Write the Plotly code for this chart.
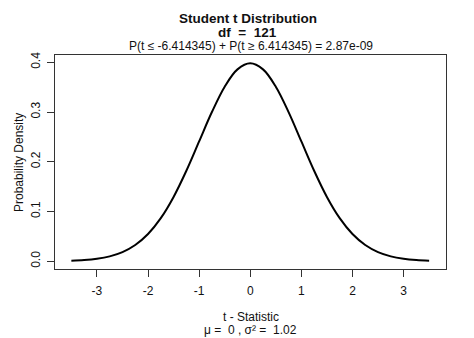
import plotly.graph_objects as go

# Student t density (df = 121), sampled on a 0.25 grid
t_values = [-3.5, -3.25, -3.0, -2.75, -2.5, -2.25, -2.0, -1.75, -1.5, -1.25, -1.0, -0.75, -0.5, -0.25,
            0.0, 0.25, 0.5, 0.75, 1.0, 1.25, 1.5, 1.75, 2.0, 2.25, 2.5, 2.75, 3.0, 3.25, 3.5]
half_density = [0.00111, 0.00241, 0.00500, 0.00986, 0.01844, 0.03267, 0.05476, 0.08666,
                0.12939, 0.18202, 0.24098, 0.30002, 0.35103, 0.38578]
peak_density = 0.39812
density = half_density + [peak_density] + half_density[::-1]

x_ticks = [-3, -2, -1, 0, 1, 2, 3]
y_ticks = [0.0, 0.1, 0.2, 0.3, 0.4]
y_tick_text = ["0.0", "0.1", "0.2", "0.3", "0.4"]

title_line1 = "Student t Distribution"
title_line2 = "df  =  121"
subtitle = "P(t ≤ -6.414345) + P(t ≥ 6.414345) = 2.87e-09"
x_title = "t - Statistic"
x_note = "μ =  0 , σ² =  1.02"
y_title = "Probability Density"

W, H = 474, 338
L, R, T, B = 55, 28, 55, 69
plot_h = H - T - B
plot_w = W - L - R
FONT = "Liberation Sans, Arial, Helvetica, sans-serif"
INK = "#111111"


def py(px):
    # pixel row (from top of page) -> paper y
    return (H - B - px) / plot_h


def pxx(px):
    # pixel column -> paper x
    return (px - L) / plot_w


fig = go.Figure()
fig.add_trace(go.Scatter(x=t_values, y=density, mode="lines",
                         line=dict(color="black", width=2, shape="spline", smoothing=1.0),
                         hoverinfo="skip", showlegend=False))

axis_common = dict(showgrid=False, zeroline=False, showline=True, mirror=True,
                   linecolor="#333333", linewidth=1, ticks="outside", ticklen=7,
                   tickcolor="#333333", tickwidth=1,
                   tickfont=dict(family=FONT, size=12, color=INK))

fig.update_xaxes(range=[-3.82, 3.83], tickvals=x_ticks, ticktext=[str(v) for v in x_ticks],
                 ticklabelstandoff=4, **axis_common)
fig.update_yaxes(range=[-0.0155, 0.4147], tickvals=y_ticks, ticktext=y_tick_text,
                 tickangle=-90, ticklabelstandoff=2, **axis_common)

ann = [
    dict(text="<b>%s</b>" % title_line1, y=py(18.5), size=13.5, dx=-3),
    dict(text="<b>%s</b>" % title_line2, y=py(32.5), size=13.5, dx=-3),
    dict(text=subtitle, y=py(46), size=12, dx=0),
    dict(text=x_title, y=py(316.5), size=12, dx=0),
    dict(text=x_note, y=py(330), size=12, dx=0),
]
for a in ann:
    fig.add_annotation(text=a["text"], x=0.5, y=a["y"], xref="paper", yref="paper",
                       xanchor="center", yanchor="middle", xshift=a["dx"], showarrow=False,
                       font=dict(family=FONT, size=a["size"], color=INK))
fig.add_annotation(text=y_title, x=pxx(19), y=py(163), xref="paper", yref="paper",
                   xanchor="center", yanchor="middle", textangle=-90, showarrow=False,
                   font=dict(family=FONT, size=12, color=INK))

fig.update_layout(width=W, height=H, margin=dict(l=L, r=R, t=T, b=B),
                  paper_bgcolor="white", plot_bgcolor="white")

fig.write_html("out.html")
